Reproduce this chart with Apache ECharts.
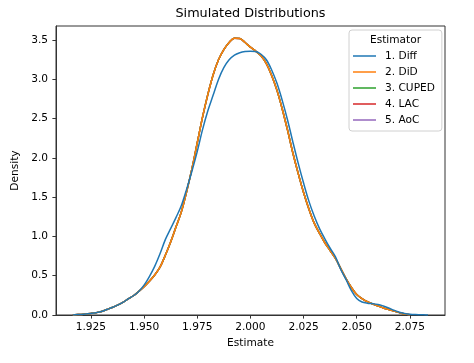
<!DOCTYPE html>
<html><head><meta charset="utf-8">
<script src="https://cdn.jsdelivr.net/npm/echarts@6/dist/echarts.min.js"></script>
<style>html,body{margin:0;padding:0;background:#fff}#c{width:474px;height:363px}</style>
</head><body><div id="c"></div>
<script>
// Estimate grid (x values)
const estimate = [1.9165,1.9175,1.92,1.9225,1.925,1.9275,1.93,1.9325,1.935,1.9375,1.94,1.9425,1.945,1.9475,1.95,1.9525,1.955,1.9575,1.96,1.9625,1.965,1.9675,1.97,1.9725,1.975,1.9775,1.98,1.9825,1.985,1.9875,1.99,1.9925,1.995,1.9975,2.0,2.0025,2.005,2.0075,2.01,2.0125,2.015,2.0175,2.02,2.0225,2.025,2.0275,2.03,2.0325,2.035,2.0375,2.04,2.0425,2.045,2.0475,2.05,2.0525,2.055,2.0575,2.06,2.0625,2.065,2.0675,2.07,2.0725,2.075,2.0775,2.08,2.0825,2.0835];
// 1. Diff density
const diffDensity = [0.0,0.003,0.007,0.012,0.02,0.03,0.045,0.07,0.095,0.125,0.16,0.205,0.245,0.30,0.38,0.49,0.62,0.78,0.96,1.10,1.24,1.39,1.60,1.83,2.08,2.36,2.60,2.80,3.00,3.15,3.25,3.31,3.34,3.355,3.36,3.355,3.32,3.25,3.12,2.95,2.73,2.48,2.20,1.93,1.68,1.45,1.26,1.10,0.97,0.85,0.74,0.58,0.45,0.31,0.21,0.165,0.15,0.145,0.135,0.115,0.09,0.06,0.035,0.02,0.01,0.005,0.003,0.001,0.0];
// 2. DiD density
const didDensity = [0.0,0.003,0.007,0.012,0.02,0.03,0.045,0.07,0.095,0.125,0.16,0.205,0.245,0.30,0.36,0.43,0.51,0.61,0.76,0.93,1.12,1.31,1.57,1.86,2.19,2.52,2.81,3.06,3.25,3.38,3.47,3.525,3.52,3.47,3.41,3.36,3.30,3.20,3.05,2.86,2.62,2.35,2.06,1.80,1.56,1.35,1.17,1.04,0.92,0.82,0.72,0.59,0.46,0.35,0.26,0.21,0.17,0.14,0.115,0.09,0.07,0.05,0.03,0.012,0.003,null,null,null,null];
// 3-5 lie underneath DiD in the picture (hidden)
const cupedDensity = didDensity;
const lacDensity = didDensity;
const aocDensity = didDensity;

const seriesNames = ['1. Diff','2. DiD','3. CUPED','4. LAC','5. AoC'];
const xTicks = [1.925,1.95,1.975,2.0,2.025,2.05,2.075];
const yTicks = [0,0.5,1.0,1.5,2.0,2.5,3.0,3.5];

const colors = ['#1f77b4','#ff7f0e','#2ca02c','#d62728','#9467bd'];
const densities = [diffDensity, didDensity, cupedDensity, lacDensity, aocDensity];
const FONT = 'DejaVu Sans';
const TXT = '#000';

const chart = echarts.init(document.getElementById('c'), null, {renderer:'canvas'});
const series = [];
for (let i = seriesNames.length - 1; i >= 0; i--) {
  series.push({
    name: seriesNames[i], type: 'line', symbol: 'none', smooth: 0.35,
    color: colors[i],
    lineStyle: {width: 1.5, color: colors[i]},
    data: estimate.map((x, j) => [x, densities[i][j]])
  });
}
chart.setOption({
  animation: false,
  textStyle: {fontFamily: FONT},
  grid: {left: 56, right: 29, top: 26, bottom: 48, show: true, borderColor: '#333', borderWidth: 1, backgroundColor: 'transparent'},
  graphic: [
    {type: 'text', x: 250.5, y: 13.5, style: {text: 'Simulated Distributions', fontFamily: FONT, fontSize: 12.8, fill: TXT, textAlign: 'center', textVerticalAlign: 'middle'}},
    {type: 'text', x: 395.5, y: 40, z: 100, style: {text: 'Estimator', fontFamily: FONT, fontSize: 10.6, fill: TXT, textAlign: 'center', textVerticalAlign: 'middle'}}
  ],
  legend: {
    data: seriesNames, orient: 'vertical', left: 349, top: 30,
    padding: [20, 7, 5, 4], itemWidth: 23, itemHeight: 12, itemGap: 4,
    borderColor: '#d0d0d0', borderWidth: 1, borderRadius: 3, backgroundColor: '#fff',
    textStyle: {fontFamily: FONT, fontSize: 10.6, color: TXT, padding: [0, 0, 0, 4], lineHeight: 12},
    icon: 'path://M0,0 L23,0 L23,1.5 L0,1.5 Z'
  },
  xAxis: {
    type: 'value', min: 1.9086, max: 2.0915,
    name: 'Estimate', nameLocation: 'middle', nameGap: 21,
    nameTextStyle: {fontFamily: FONT, fontSize: 10.6, color: TXT},
    axisLine: {show: true, lineStyle: {color: '#333', width: 1}},
    axisTick: {show: true, length: 3.6, lineStyle: {color: '#333'}, customValues: xTicks},
    axisLabel: {customValues: xTicks, formatter: v => v.toFixed(3), fontFamily: FONT, fontSize: 10.6, color: TXT, margin: 7},
    splitLine: {show: false}
  },
  yAxis: {
    type: 'value', min: 0, max: 3.68,
    name: 'Density', nameLocation: 'middle', nameGap: 30,
    nameTextStyle: {fontFamily: FONT, fontSize: 10.6, color: TXT},
    axisLine: {show: true, lineStyle: {color: '#333', width: 1}},
    axisTick: {show: true, length: 3.6, lineStyle: {color: '#333'}, customValues: yTicks},
    axisLabel: {customValues: yTicks, formatter: v => v.toFixed(1), fontFamily: FONT, fontSize: 10.6, color: TXT, margin: 8},
    splitLine: {show: false}
  },
  series: series
});
</script>
</body></html>
